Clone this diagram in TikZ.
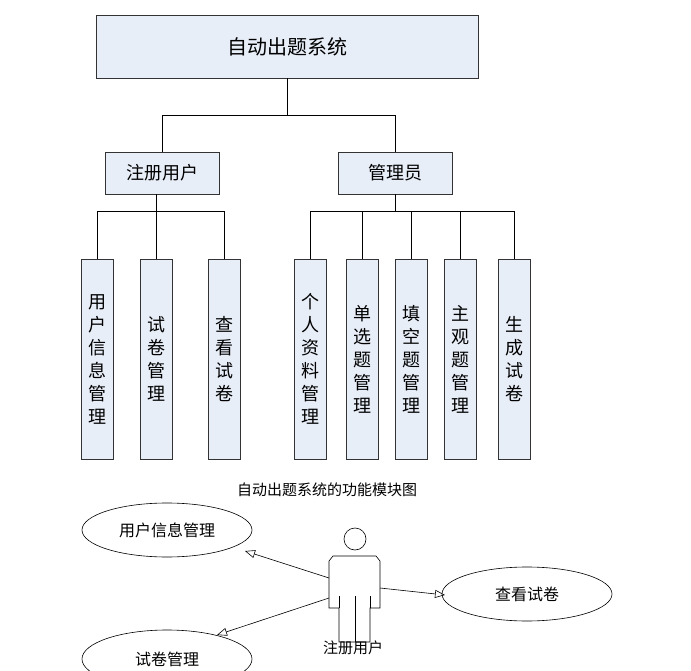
\documentclass[tikz,border=0pt]{standalone}
\usepackage{fontspec}
\setmainfont{Noto Sans CJK SC}
\usetikzlibrary{arrows.meta,shapes.geometric}
\definecolor{bx}{HTML}{E8EEF8}
\begin{document}
\begin{tikzpicture}[x=1pt,y=-1pt,
 box/.style={draw=black!80,fill=bx,line width=0.6pt,inner sep=0pt},
 vb/.style={box,minimum width=32pt,minimum height=200pt,font=\fontsize{18}{23}\selectfont,align=center},
 ln/.style={draw=black,line width=0.6pt},
 uc/.style={draw=black,ellipse,line width=0.6pt,minimum width=170pt,minimum height=54pt,font=\fontsize{16}{18}\selectfont},
 ar/.style={draw=black,line width=0.6pt,-{Triangle[open,length=10pt,width=8pt]}}]
\useasboundingbox (0,0) rectangle (691,671);
\node[box,minimum width=382pt,minimum height=63pt,font=\fontsize{20}{22}\selectfont] (top) at (287,46.5) {自动出题系统};
\node[box,minimum width=114pt,minimum height=42pt,font=\fontsize{18}{20}\selectfont] (reg) at (162,173) {注册用户};
\node[box,minimum width=114pt,minimum height=42pt,font=\fontsize{18}{20}\selectfont] (adm) at (395,173) {管理员};
\draw[ln] (top.south) -- (287,115) -| (reg.north);
\draw[ln] (287,115) -| (adm.north);
\node[vb] (a) at (97,359) {用\\户\\信\\息\\管\\理};
\node[vb] (b) at (156,359) {试\\卷\\管\\理};
\node[vb] (c) at (224,359) {查\\看\\试\\卷};
\node[vb] (d) at (310,359) {个\\人\\资\\料\\管\\理};
\node[vb] (e) at (362,359) {单\\选\\题\\管\\理};
\node[vb] (f) at (411,359) {填\\空\\题\\管\\理};
\node[vb] (g) at (460,359) {主\\观\\题\\管\\理};
\node[vb] (h) at (514,359) {生\\成\\试\\卷};
\draw[ln] (b.north |- reg.south) -- (156,211);
\draw[ln] (a.north) |- (c.north |- 0,211) -- (c.north);
\draw[ln] (b.north) -- (156,211);
\draw[ln] (adm.south) -- (395,211);
\draw[ln] (d.north) |- (h.north |- 0,211) -- (h.north);
\foreach \n in {e,f,g}{\draw[ln] (\n.north) -- (\n.north |- 0,211);}
\node[font=\fontsize{15}{17}\selectfont] (cap) at (327,490) {自动出题系统的功能模块图};
\node[uc] (u1) at (167,530) {用户信息管理};
\node[uc] (u2) at (527,594) {查看试卷};
\node[uc,minimum height=58pt] (u3) at (167,659) {试卷管理};
\node[draw,circle,minimum size=22pt,inner sep=0pt,line width=0.6pt] (head) at (355,539) {};
\draw[line width=0.6pt] (333,556) -- (376,556) -- (380,561) -- (380,608) -- (370,608) -- (370,642) -- (339,642) -- (339,608) -- (329,608) -- (329,561) -- cycle;
\draw[line width=0.6pt] (339,596) -- (339,608) (370,596) -- (370,608) (355,596) -- (355,642);
\coordinate (s1) at (329,578);
\coordinate (s2) at (329,598);
\coordinate (s3) at (380,588);
\node[font=\fontsize{15}{17}\selectfont] (lbl) at (353,648) {注册用户};
\draw[ar] (s1) -- (245,551);
\draw[ar] (s2) -- (217,635);
\draw[ar] (s3) -- (445,595);
\end{tikzpicture}
\end{document}
